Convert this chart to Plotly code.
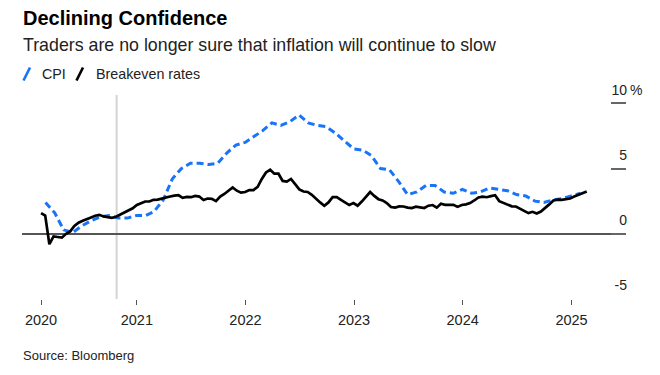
import plotly.graph_objects as go
import pandas as pd

# ---------------- data ----------------
cpi_start = "2020-02-29"   # monthly, month-end
cpi_values = [
    2.4, 1.6, 0.3, 0.1, 0.6, 1.0, 1.3, 1.4, 1.2, 1.2, 1.4,            # 2020 Feb-Dec
    1.4, 1.7, 2.6, 4.2, 5.0, 5.4, 5.4, 5.3, 5.4, 6.2, 6.8, 7.0,       # 2021
    7.5, 7.9, 8.5, 8.3, 8.6, 9.1, 8.5, 8.3, 8.2, 7.7, 7.1, 6.5,       # 2022
    6.4, 6.0, 5.0, 4.9, 4.0, 3.0, 3.2, 3.7, 3.7, 3.2, 3.1, 3.4,       # 2023
    3.1, 3.2, 3.5, 3.4, 3.3, 3.0, 2.9, 2.5, 2.4, 2.6, 2.7, 2.9,       # 2024
    3.1,                                                              # 2025 Jan
]

breakeven_start = "2020-02-14"   # sampled every 14 days
breakeven_values = [
    1.58, 1.40, -0.80, -0.20, -0.25, -0.30, 0.00, 0.18, 0.60, 0.85,
    1.00, 1.15, 1.25, 1.38, 1.45, 1.33, 1.30, 1.22, 1.30, 1.45,
    1.60, 1.75, 1.95, 2.20, 2.35, 2.47, 2.47, 2.60, 2.62, 2.68,
    2.75, 2.85, 2.92, 2.95, 2.75, 2.82, 2.80, 2.90, 2.85, 2.58,
    2.70, 2.68, 2.50, 2.85, 3.05, 3.30, 3.55, 3.30, 3.15, 3.20,
    3.35, 3.35, 3.60, 4.20, 4.70, 4.90, 4.60, 4.60, 4.05, 4.00,
    4.20, 3.80, 3.40, 3.24, 3.20, 2.98, 2.65, 2.40, 2.15, 2.40,
    2.80, 2.80, 2.60, 2.40, 2.20, 2.35, 2.15, 2.47, 2.80, 3.20,
    2.90, 2.65, 2.55, 2.35, 2.05, 2.00, 2.10, 2.09, 2.00, 1.97,
    2.08, 2.00, 1.97, 2.15, 2.20, 2.00, 2.30, 2.22, 2.20, 2.22,
    2.06, 2.20, 2.25, 2.35, 2.55, 2.78, 2.85, 2.80, 2.88, 2.95,
    2.50, 2.35, 2.25, 2.10, 2.09, 1.92, 1.75, 1.58, 1.68, 1.55,
    1.70, 1.95, 2.25, 2.55, 2.62, 2.60, 2.66, 2.70, 2.85, 2.98,
    3.10, 3.24,
]

year_tick_dates = ["2020-02-14", "2021-01-01", "2022-01-01", "2023-01-01", "2024-01-01", "2025-01-01"]
year_tick_labels = ["2020", "2021", "2022", "2023", "2024", "2025"]
y_tick_values = [-5, 0, 5, 10]
y_tick_labels = ["-5", "0", "5", "10"]
marker_date = "2020-10-25"

cpi_dates = pd.date_range(cpi_start, periods=len(cpi_values), freq="ME")
be_dates = pd.date_range(breakeven_start, periods=len(breakeven_values), freq="14D")

# ---------------- figure ----------------
OFF = 8                     # page body margin offset
W, H = 660 - OFF, 375 - OFF
L, R, T, B = 14, 34, 72, 76
plot_w = W - L - R
plot_h = H - T - B


def px(ref_x):
    return (ref_x - OFF - L) / plot_w


def py(ref_y):
    return 1 + (T - (ref_y - OFF)) / plot_h


BLUE = "#1a74f7"
FONT = "Liberation Sans, Arial, sans-serif"

fig = go.Figure()
fig.add_trace(go.Scatter(x=cpi_dates, y=cpi_values, mode="lines", name="CPI",
                         line=dict(color=BLUE, width=3, dash="7px,4px")))
fig.add_trace(go.Scatter(x=be_dates, y=breakeven_values, mode="lines", name="Breakeven rates",
                         line=dict(color="#000000", width=2.7)))

fig.add_shape(type="line", xref="x", yref="y", x0=marker_date, x1=marker_date, y0=-5, y1=10.63,
              line=dict(color="#d4d4d4", width=2), layer="below")

fig.update_layout(
    width=W, height=H, autosize=False,
    margin=dict(l=L, r=R, t=T, b=B, pad=0),
    paper_bgcolor="white", plot_bgcolor="white",
    showlegend=False,
    font=dict(family=FONT, color="#222222"),
    xaxis=dict(
        type="date", range=["2019-12-12", "2025-07-03"], automargin=False,
        tickmode="array", tickvals=year_tick_dates, ticktext=year_tick_labels,
        ticks="outside", ticklen=5, tickwidth=1, tickcolor="#555555",
        ticklabelstandoff=3,
        showgrid=False, showline=False, zeroline=False,
        tickfont=dict(size=14.5, color="#222222"),
    ),
    yaxis=dict(
        side="right", range=[-5, -5 + plot_h / 13.05], automargin=False,
        tickmode="array", tickvals=y_tick_values, ticktext=y_tick_labels,
        ticks="inside", ticklen=15, tickwidth=1.5, tickcolor="#666666",
        ticklabelposition="inside top", ticklabelstandoff=-4, ticklabelshift=-3,
        showgrid=False, showline=False,
        zeroline=True, zerolinecolor="#555555", zerolinewidth=1.5,
        tickfont=dict(size=14, color="#222222"),
    ),
)

fig.add_annotation(text="<b>Declining Confidence</b>", xref="paper", yref="paper",
                   x=px(21), y=py(18), xanchor="left", yanchor="middle", showarrow=False,
                   font=dict(size=20, color="#000000", family=FONT))
fig.add_annotation(text="Traders are no longer sure that inflation will continue to slow",
                   xref="paper", yref="paper", x=px(21), y=py(45), xanchor="left", yanchor="middle",
                   showarrow=False, font=dict(size=17.8, color="#222222", family=FONT))
# legend keys
fig.add_shape(type="line", xref="paper", yref="paper", x0=px(23.5), y0=py(80.5), x1=px(30), y1=py(67.5),
              line=dict(color=BLUE, width=2.6))
fig.add_shape(type="line", xref="paper", yref="paper", x0=px(76.5), y0=py(80.5), x1=px(83), y1=py(67.5),
              line=dict(color="#000000", width=2.6))
fig.add_annotation(text="CPI", xref="paper", yref="paper", x=px(40), y=py(74),
                   xanchor="left", yanchor="middle", showarrow=False,
                   font=dict(size=14.3, color="#222222", family=FONT))
fig.add_annotation(text="Breakeven rates", xref="paper", yref="paper", x=px(94), y=py(74),
                   xanchor="left", yanchor="middle", showarrow=False,
                   font=dict(size=14.3, color="#222222", family=FONT))
fig.add_annotation(text="Source: Bloomberg", xref="paper", yref="paper", x=px(21), y=py(355),
                   xanchor="left", yanchor="middle", showarrow=False,
                   font=dict(size=13, color="#222222", family=FONT))
fig.add_annotation(text="%", xref="paper", yref="y", x=px(628), y=10,
                   xanchor="left", yanchor="bottom", yshift=3, showarrow=False,
                   font=dict(size=14, color="#222222", family=FONT))

fig.write_html("out.html")
